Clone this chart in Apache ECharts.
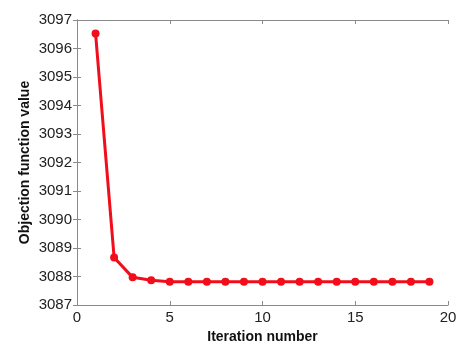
<!DOCTYPE html>
<html><head><meta charset="utf-8">
<script src="https://cdn.jsdelivr.net/npm/echarts@6/dist/echarts.min.js"></script>
<style>html,body{margin:0;padding:0;background:#fff}#c{width:474px;height:356px}</style>
</head><body><div id="c"></div>
<script>
const iterations = [1,2,3,4,5,6,7,8,9,10,11,12,13,14,15,16,17,18,19];
const objValues = [3096.53,3088.67,3087.97,3087.87,3087.82,3087.82,3087.82,3087.82,3087.82,3087.82,3087.82,3087.82,3087.82,3087.82,3087.82,3087.82,3087.82,3087.82,3087.82];
const xTitle = 'Iteration number';
const yTitle = 'Objection function value';

const chart = echarts.init(document.getElementById('c'));
const axisCol = '#8a8a8a';
const lbl = {color:'#222', fontFamily:'Liberation Sans, Arial, sans-serif', fontSize:15, formatter:v=>String(v)};
chart.setOption({
  animation:false,
  grid:{left:77,right:26,top:20,bottom:51},
  xAxis:[{
    type:'value',min:0,max:20,interval:5,
    name:xTitle,nameLocation:'middle',nameGap:22,
    nameTextStyle:{color:'#111',fontFamily:'Liberation Sans, Arial, sans-serif',fontSize:14,fontWeight:'bold'},
    axisLine:{show:true,lineStyle:{color:axisCol,width:1}},
    axisTick:{show:true,inside:true,length:4,lineStyle:{color:axisCol}},
    axisLabel:Object.assign({margin:5},lbl),
    splitLine:{show:false}
  },{
    type:'value',min:0,max:20,interval:5,position:'top',
    axisLine:{show:true,lineStyle:{color:axisCol,width:1}},
    axisTick:{show:true,inside:true,length:4,lineStyle:{color:axisCol}},
    axisLabel:{show:false},splitLine:{show:false}
  }],
  yAxis:[{
    type:'value',min:3087,max:3097,interval:1,
    name:yTitle,nameLocation:'middle',nameGap:45,nameRotate:90,nameMoveOverlap:false,
    nameTextStyle:{color:'#111',fontFamily:'Liberation Sans, Arial, sans-serif',fontSize:14,fontWeight:'bold'},
    axisLine:{show:true,lineStyle:{color:axisCol,width:1}},
    axisTick:{show:true,inside:true,length:4,lineStyle:{color:axisCol}},
    axisLabel:Object.assign({margin:5},lbl),
    splitLine:{show:false}
  },{
    type:'value',min:3087,max:3097,interval:1,position:'right',
    axisLine:{show:true,lineStyle:{color:axisCol,width:1}},
    axisTick:{show:true,inside:true,length:4,lineStyle:{color:axisCol}},
    axisLabel:{show:false},splitLine:{show:false}
  }],
  series:[{
    type:'line',
    data:iterations.map((x,i)=>[x,objValues[i]]),
    symbol:'circle',symbolSize:8,
    lineStyle:{color:'#f20d1a',width:3},
    itemStyle:{color:'#f20d1a'}
  }]
});
</script></body></html>
